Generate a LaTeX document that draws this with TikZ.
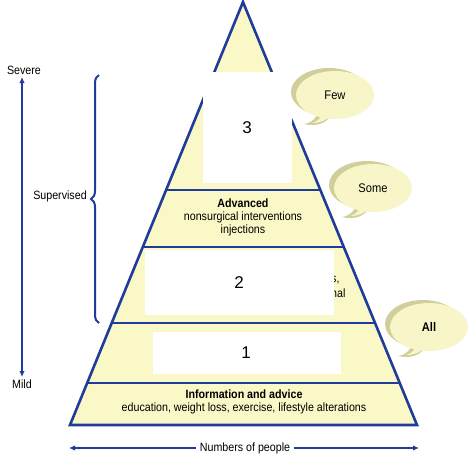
\documentclass[tikz,border=0pt]{standalone}
\usepackage{fontspec}
\setmainfont[FakeStretch=0.89]{Liberation Sans}
\newfontfamily\numfont{Liberation Sans}
\usetikzlibrary{shapes.geometric,arrows.meta,decorations.pathreplacing,calc}
\definecolor{pblue}{HTML}{1F3C9A}
\definecolor{pfill}{HTML}{FAF8C6}
\definecolor{bfill}{HTML}{F8F6C8}
\definecolor{bshade}{HTML}{D2CE9C}
\begin{document}
\tikzset{
  edge/.style={draw=pblue, line width=2.6pt, line join=miter},
  tier/.style={draw=pblue, line width=2.6pt},
  cover/.style={fill=white, draw=none},
  lbl/.style={font=\fontsize{12}{13}\selectfont, align=center, inner sep=0pt},
  num/.style={font=\numfont\fontsize{17}{17}\selectfont, inner sep=0pt},
  bub/.style={ellipse, fill=bfill, draw=none, minimum width=78pt, minimum height=48pt, inner sep=0pt, font=\fontsize{12.5}{12.5}\selectfont},
  bshadow/.style={fill=bshade},
  axis/.style={draw=pblue, line width=2.2pt, -{Latex[length=6pt,width=5.5pt]}},
}
\begin{tikzpicture}[x=1pt,y=-1pt]
\path[use as bounding box, fill=white] (0,0) rectangle (474,459);
% pyramid
\coordinate (A) at (243,2);
\coordinate (L) at (70,425);
\coordinate (R) at (417,425);
\fill[pfill] (A) -- (L) -- (R) -- cycle;
\foreach \t/\n in {0.4444/a,0.5792/b,0.7589/c,0.9007/d}{
  \coordinate (L\n) at ($(A)!\t!(L)$);
  \coordinate (R\n) at ($(A)!\t!(R)$);
}
\draw[tier] (La) -- (Ra);
\draw[tier] (Lb) -- (Rb);
\draw[tier] (Lc) -- (Rc);
\draw[tier] (Ld) -- (Rd);
\draw[edge] (A) -- (L) -- (R) -- cycle;
% fragments behind box 2
\node[lbl, anchor=west] (frag1) at (331,280) {s,};
\node[lbl, anchor=west] (frag2) at (331,293) {nal};
% white boxes
\fill[cover] (203,72) rectangle (292,183);
\fill[cover] (145,249.5) rectangle (334,315);
\fill[cover] (153,332) rectangle (341,374);
\node[num] (n3) at (247,128) {3};
\node[num] (n2) at (239,283) {2};
\node[num] (n1) at (246,353) {1};
% tier texts
\node[lbl] (adv) at (243,217) {\textbf{Advanced}\\nonsurgical interventions\\injections};
\node[lbl] (info) at (244,402) {\textbf{Information and advice}\\education, weight loss, exercise, lifestyle alterations};
% left axis
\node[lbl] (severe) at (24,70) {Severe};
\node[lbl] (mild) at (22,384) {Mild};
\coordinate (top) at (22,77);
\coordinate (bot) at (22,377);
\draw[axis, {Latex[length=6pt,width=5.5pt]}-{Latex[length=6pt,width=5.5pt]}] (top) -- (bot);
% brace
\coordinate (bt) at (99,75);
\coordinate (bb) at (99,323);
\draw[draw=pblue, line width=2pt, decorate, decoration={brace, amplitude=8pt}] (bb) -- (bt);
\node[lbl] (sup) at (60,196) {Supervised};
% bottom axis
\node[lbl] (people) at (245,448) {Numbers of people};
\coordinate (pl) at (69,448);
\coordinate (pr) at (419,448);
\draw[axis] ([xshift=-4pt]people.west) -- (pl);
\draw[axis] ([xshift=4pt]people.east) -- (pr);
% bubbles
\foreach \cx/\cy in {335/95, 373/188, 429/327}{
  \fill[bshadow] (\cx-6,\cy-3) ellipse [x radius=38, y radius=24];
  \fill[bshadow] (\cx-18,\cy+20) .. controls (\cx-22,\cy+27) and (\cx-26,\cy+28) .. (\cx-31,\cy+29)
     .. controls (\cx-18,\cy+32) and (\cx-10,\cy+28) .. (\cx-5,\cy+22) -- cycle;
  \fill[bfill] (\cx-14,\cy+21) .. controls (\cx-16,\cy+25) and (\cx-19,\cy+27) .. (\cx-23,\cy+28)
     .. controls (\cx-14,\cy+28) and (\cx-9,\cy+25) .. (\cx-6,\cy+22) -- cycle;
}
\node[bub] (few) at (335,95) {Few};
\node[bub] (some) at (373,188) {Some};
\node[bub] (all) at (429,327) {\textbf{All}};
\end{tikzpicture}
\end{document}
